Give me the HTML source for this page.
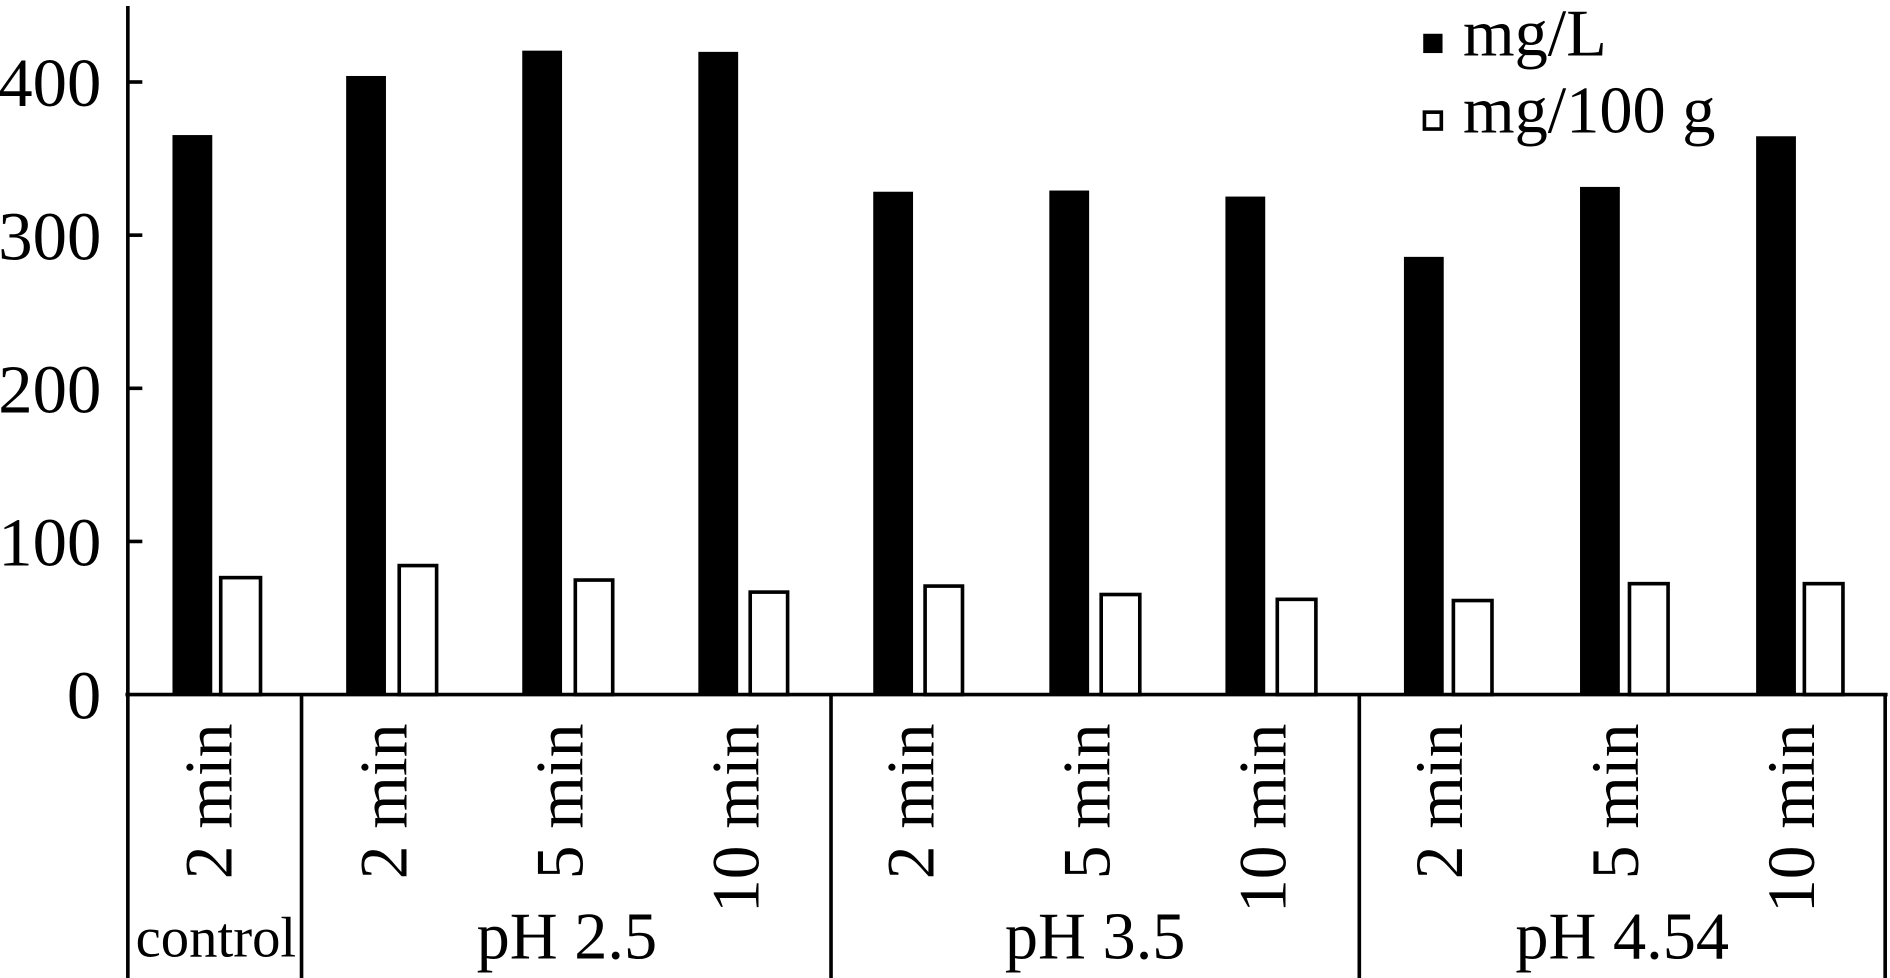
<!DOCTYPE html>
<html><head><meta charset="utf-8"><style>html,body{margin:0;padding:0;background:#fff;}svg{display:block}</style></head>
<body>
<svg width="1890" height="978" viewBox="0 0 1567 811" preserveAspectRatio="none" xmlns="http://www.w3.org/2000/svg" font-family="Liberation Serif, serif">
<g fill="#000">
<rect x="143" y="112" width="33" height="464"/>
<rect x="287" y="63" width="33" height="513"/>
<rect x="433" y="42" width="33" height="534"/>
<rect x="579" y="43" width="33" height="533"/>
<rect x="724" y="159" width="33" height="417"/>
<rect x="870" y="158" width="33" height="418"/>
<rect x="1016" y="163" width="33" height="413"/>
<rect x="1164" y="213" width="33" height="363"/>
<rect x="1310" y="155" width="33" height="421"/>
<rect x="1456" y="113" width="33" height="463"/>
</g>
<g fill="#fff" stroke="#000" stroke-width="3">
<rect x="183" y="479" width="33" height="97"/>
<rect x="331" y="469" width="31" height="107"/>
<rect x="477" y="481" width="31" height="95"/>
<rect x="622" y="491" width="31" height="85"/>
<rect x="767" y="486" width="31" height="90"/>
<rect x="913" y="493" width="32" height="83"/>
<rect x="1059" y="497" width="32" height="79"/>
<rect x="1205" y="498" width="32" height="78"/>
<rect x="1351" y="484" width="32" height="92"/>
<rect x="1496" y="484" width="32" height="92"/>
</g>
<g stroke="#000" stroke-width="3" fill="none">
<line x1="106" y1="5" x2="106" y2="811"/>
<line x1="104" y1="576" x2="1565" y2="576"/>
<line x1="250" y1="576" x2="250" y2="811"/>
<line x1="689" y1="576" x2="689" y2="811"/>
<line x1="1127" y1="576" x2="1127" y2="811"/>
<line x1="1563" y1="576" x2="1563" y2="811"/>
<line x1="106" y1="68" x2="118" y2="68"/>
<line x1="106" y1="195" x2="118" y2="195"/>
<line x1="106" y1="322" x2="118" y2="322"/>
<line x1="106" y1="449" x2="118" y2="449"/>
</g>
<g font-size="57" text-anchor="end">
<text x="84" y="88">400</text>
<text x="84" y="215">300</text>
<text x="84" y="342">200</text>
<text x="84" y="469">100</text>
<text x="84" y="596">0</text>
</g>
<g font-size="56" text-anchor="end">
<text transform="translate(192,600) rotate(-90)">2 min</text>
<text transform="translate(337,600) rotate(-90)">2 min</text>
<text transform="translate(483,600) rotate(-90)">5 min</text>
<text transform="translate(629,600) rotate(-90)">10 min</text>
<text transform="translate(774,600) rotate(-90)">2 min</text>
<text transform="translate(920,600) rotate(-90)">5 min</text>
<text transform="translate(1066,600) rotate(-90)">10 min</text>
<text transform="translate(1212,600) rotate(-90)">2 min</text>
<text transform="translate(1358,600) rotate(-90)">5 min</text>
<text transform="translate(1504,600) rotate(-90)">10 min</text>
</g>
<g text-anchor="middle" font-size="55">
<text x="179" y="793" font-size="47">control</text>
<text x="470" y="795">pH 2.5</text>
<text x="908" y="795">pH 3.5</text>
<text x="1345" y="795">pH 4.54</text>
</g>
<rect x="1180" y="28" width="16" height="16" fill="#000"/>
<rect x="1181" y="93" width="14" height="14" fill="#fff" stroke="#000" stroke-width="3"/>
<g font-size="55">
<text x="1213" y="46">mg/L</text>
<text x="1213" y="110">mg/100 g</text>
</g>
</svg>
</body></html>
